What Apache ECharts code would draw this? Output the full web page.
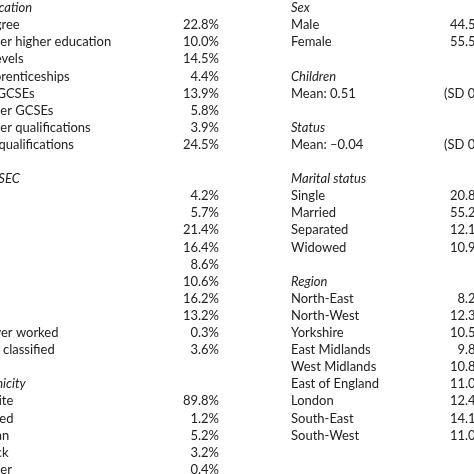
<!DOCTYPE html>
<html><head><meta charset="utf-8">
<script src="https://cdn.jsdelivr.net/npm/echarts@6/dist/echarts.min.js"></script>
<style>html,body{margin:0;padding:0;background:#fff}#c{width:474px;height:474px}</style>
</head><body><div id="c"></div>
<script>
// Left column: [label, value], null = blank row, {h:..} = header
const educationLabels = ["Degree","Other higher education","A-levels","Apprenticeships","5+ GCSEs","Other GCSEs","Other qualifications","No qualifications"];
const educationValues = ["22.8%","10.0%","14.5%","4.4%","13.9%","5.8%","3.9%","24.5%"];
const nssecLabels = ["1","2","3","4","5","6","7","8","Never worked","Not classified"];
const nssecValues = ["4.2%","5.7%","21.4%","16.4%","8.6%","10.6%","16.2%","13.2%","0.3%","3.6%"];
const ethnicityLabels = ["White","Mixed","Asian","Black","Other"];
const ethnicityValues = ["89.8%","1.2%","5.2%","3.2%","0.4%"];
const sexLabels = ["Male","Female"];
const sexValues = ["44.5%","55.5%"];
const childrenLabels = ["Mean: 0.51"];
const childrenValues = ["(SD 0.89)"];
const statusLabels = ["Mean: \u20130.04"];
const statusValues = ["(SD 0.98)"];
const maritalLabels = ["Single","Married","Separated","Widowed"];
const maritalValues = ["20.8%","55.2%","12.1%","10.9%"];
const regionLabels = ["North-East","North-West","Yorkshire","East Midlands","West Midlands","East of England","London","South-East","South-West"];
const regionValues = ["8.2%","12.3%","10.5%","9.8%","10.8%","11.0%","12.4%","14.1%","11.0%"];

const leftBlocks = [["Education",educationLabels,educationValues],["NS-SEC",nssecLabels,nssecValues],["Ethnicity",ethnicityLabels,ethnicityValues]];
const rightBlocks = [["Sex",sexLabels,sexValues,'r'],["Children",childrenLabels,childrenValues,'l'],["Status",statusLabels,statusValues,'l'],["Marital status",maritalLabels,maritalValues,'r'],["Region",regionLabels,regionValues,'r']];

const font = 'Lato, sans-serif', fs = 13, col = '#222', rowH = 17.1, y0 = 8;
const els = [];
function build(blocks, labelX, valX, valLeftX){
  let r = 0;
  blocks.forEach(b=>{
    els.push({type:'text',x:labelX,y:y0+r*rowH,style:{text:b[0],font:'italic '+fs+'px '+font,fill:col,textVerticalAlign:'middle'}});
    r++;
    b[1].forEach((l,i)=>{
      const y=y0+r*rowH;
      els.push({type:'text',x:labelX,y:y,style:{text:l,font:fs+'px '+font,fill:col,textVerticalAlign:'middle'}});
      const left = b[3]==='l';
      els.push({type:'text',x:left?valLeftX:valX,y:y,style:{text:b[2][i],font:fs+'px '+font,fill:col,textAlign:left?'left':'right',textVerticalAlign:'middle'}});
      r++;
    });
    r++;
  });
}
build(leftBlocks,-22,219,0);
build(rightBlocks,291,486,444);
const chart = echarts.init(document.getElementById('c'));
chart.setOption({backgroundColor:'#fff',graphic:{elements:els}});
</script></body></html>
